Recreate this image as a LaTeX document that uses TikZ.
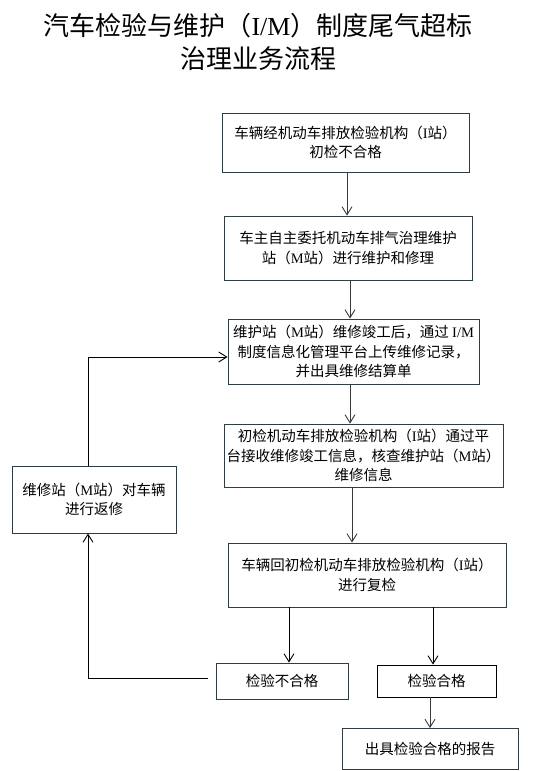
\documentclass[tikz,border=0pt]{standalone}
\usepackage{fontspec}
\setmainfont{Noto Sans CJK SC}
\newfontfamily\lat{Liberation Serif}
\usetikzlibrary{arrows.meta}
\definecolor{boxc}{HTML}{2E3D42}
\definecolor{arrc}{HTML}{3A3A3A}
\begin{document}
\begin{tikzpicture}[x=1pt,y=-1pt,
  box/.style={draw=boxc, line width=0.9pt, align=center, inner sep=0pt, fill=white,
    font=\fontsize{14.5}{19.5}\selectfont},
  arr/.style={draw=arrc, line width=1pt, -{Straight Barb[length=8pt,width=10pt,line width=0.9pt]}},
  titlef/.style={inner sep=0pt, font=\fontsize{26}{30}\selectfont}]
\useasboundingbox[fill=white] (0,0) rectangle (541,771);
% title
\node[titlef] (t1) at (258,26) {汽车检验与维护（{\lat I/M}）制度尾气超标};
\node[titlef] (t2) at (258,59) {治理业务流程};
% boxes
\node[box, minimum width=247pt, minimum height=59pt] (b1) at (345.5,142.5)
  {车辆经机动车排放检验机构（{\lat I}站）\\初检不合格};
\node[box, minimum width=248pt, minimum height=64pt] (b2) at (348,248)
  {车主自主委托机动车排气治理维护\\站（{\lat M}站）进行维护和修理};
\node[box, minimum width=251pt, minimum height=65pt] (b3) at (353.5,351.5)
  {维护站（{\lat M}站）维修竣工后，通过 {\lat I/M}\\制度信息化管理平台上传维修记录，\\并出具维修结算单};
\node[box, minimum width=279pt, minimum height=63pt] (b4) at (363.5,455.5)
  {初检机动车排放检验机构（{\lat I}站）通过平\\台接收维修竣工信息，核查维护站（{\lat M}站）\\维修信息};
\node[box, minimum width=278pt, minimum height=64pt] (b5) at (367,575)
  {车辆回初检机动车排放检验机构（{\lat I}站）\\进行复检};
\node[box, minimum width=132pt, minimum height=36pt] (fail) at (282,681) {检验不合格};
\node[box, draw=black, minimum width=119pt, minimum height=32pt] (pass) at (436.5,681) {检验合格};
\node[box, minimum width=176pt, minimum height=41pt] (report) at (430,749) {出具检验合格的报告};
\node[box, minimum width=164pt, minimum height=67pt] (left) at (94,499.5)
  {维修站（{\lat M}站）对车辆\\进行返修};
% x positions of vertical connectors
\coordinate (xa) at (347,0);
\coordinate (xb) at (350,0);
\coordinate (xc) at (352,0);
\coordinate (xd) at (289,0);
\coordinate (xe) at (433,0);
\coordinate (xf) at (430,0);
\coordinate (lx) at (88,0);
\coordinate (uy) at (0,357);
% connectors
\draw[arr] (b1.south -| xa) -- (b2.north -| xa);
\draw[arr] (b2.south -| xb) -- (b3.north -| xb);
\draw[arr] (b3.south -| xb) -- (b4.north -| xb);
\draw[arr] (b4.south -| xc) -- (b5.north -| xc);
\draw[arr,draw=black] (b5.south -| xd) -- (fail.north -| xd);
\draw[arr,draw=black] (b5.south -| xe) -- (pass.north -| xe);
\draw[arr] (pass.south -| xf) -- (report.north -| xf);
\draw[arr,draw=black] ([shift={(-8,-3)}]fail.west) -| (lx |- left.south);
\draw[arr,draw=black] (lx |- left.north) |- (b3.west |- uy);
\end{tikzpicture}
\end{document}
